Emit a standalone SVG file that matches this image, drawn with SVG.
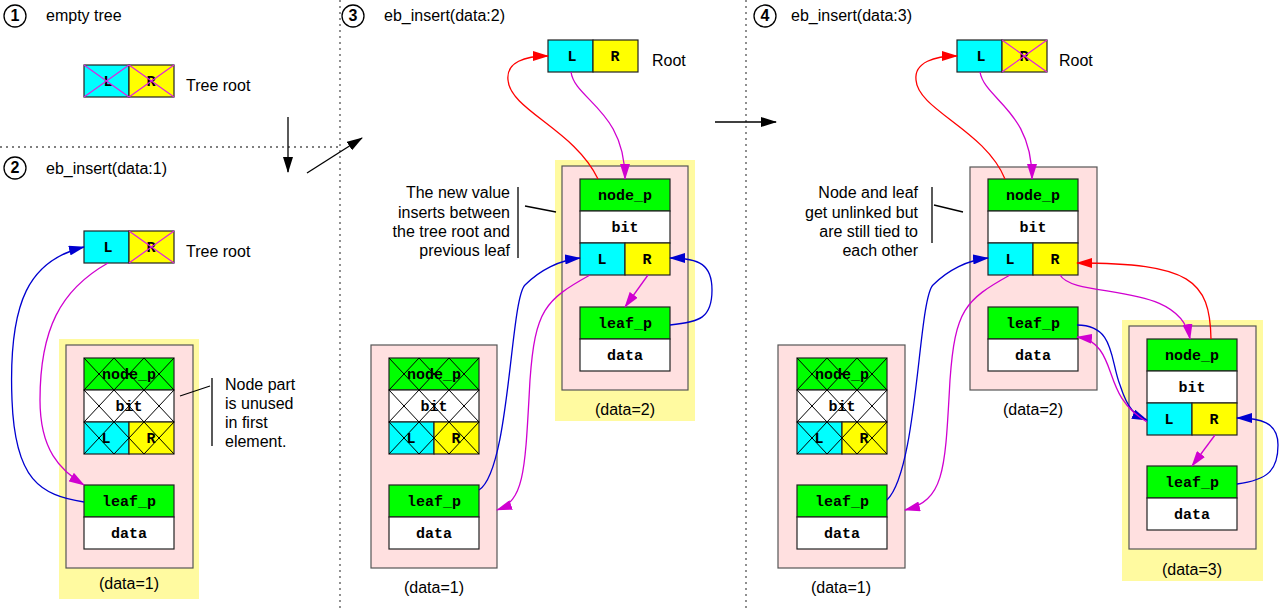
<svg xmlns="http://www.w3.org/2000/svg" width="1281" height="608" viewBox="0 0 1281 608">
<style>
.t{font-family:"Liberation Sans",Arial,sans-serif;font-size:16px;fill:#000}
.m{font-family:"Liberation Mono","Courier New",monospace;font-size:15px;font-weight:bold;fill:#000;text-anchor:middle}
.c{fill:none;stroke:#000;stroke-width:1.3}
.cell{stroke:#222;stroke-width:1.2}
.g{fill:#00ff00}.w{fill:#fff}.cy{fill:#00ffff}.y{fill:#ffff00}
.pk{fill:#ffe0e0;stroke:#555;stroke-width:1.2}
.yb{fill:#fffaa0}
.xm{stroke:#e020e0;stroke-width:1.2}
.xk{stroke:#000;stroke-width:1}
.dot{stroke:#555;stroke-width:1.3;stroke-dasharray:2,4}
.bl{fill:none;stroke:#0000d0;stroke-width:1.3}
.mg{fill:none;stroke:#d000d0;stroke-width:1.3}
.rd{fill:none;stroke:#ff0000;stroke-width:1.3}
.bk{fill:none;stroke:#000;stroke-width:1.3}
</style>
<defs>
<marker id="ab" markerWidth="16" markerHeight="10" refX="15" refY="5" orient="auto" markerUnits="userSpaceOnUse"><path d="M0,0L16,5L0,10z" fill="#0000d0"/></marker>
<marker id="am" markerWidth="16" markerHeight="10" refX="15" refY="5" orient="auto" markerUnits="userSpaceOnUse"><path d="M0,0L16,5L0,10z" fill="#d000d0"/></marker>
<marker id="ar" markerWidth="16" markerHeight="10" refX="15" refY="5" orient="auto" markerUnits="userSpaceOnUse"><path d="M0,0L16,5L0,10z" fill="#ff0000"/></marker>
<marker id="ak" markerWidth="16" markerHeight="10" refX="15" refY="5" orient="auto" markerUnits="userSpaceOnUse"><path d="M0,0L16,5L0,10z" fill="#000"/></marker>
<g id="node">
<rect class="cell g" x="0" y="0" width="90" height="32"/><text class="m" x="45" y="21">node_p</text>
<rect class="cell w" x="0" y="32" width="90" height="32"/><text class="m" x="45" y="53">bit</text>
<rect class="cell cy" x="0" y="64" width="45" height="32"/><text class="m" x="22" y="85">L</text>
<rect class="cell y" x="45" y="64" width="45" height="32"/><text class="m" x="67" y="85">R</text>
</g>
<g id="leaf">
<rect class="cell g" x="0" y="0" width="90" height="32"/><text class="m" x="45" y="21">leaf_p</text>
<rect class="cell w" x="0" y="32" width="90" height="32"/><text class="m" x="45" y="53">data</text>
</g>
<g id="xg" class="xk">
<path d="M0,0L30,32M30,0L0,32M30,0L60,32M60,0L30,32M60,0L90,32M90,0L60,32M0,32L30,64M30,32L0,64M30,32L60,64M60,32L30,64M60,32L90,64M90,32L60,64M0,64L30,96M30,64L0,96M30,64L60,96M60,64L30,96M60,64L90,96M90,64L60,96"/>
</g>
<g id="root">
<rect class="cell cy" x="0" y="0" width="45" height="32"/><text class="m" x="24" y="21">L</text>
<rect class="cell y" x="45" y="0" width="45" height="32"/><text class="m" x="67" y="21">R</text>
</g>
</defs>

<g id="separators">
<line class="dot" x1="0" y1="147" x2="340" y2="147"/>
<line class="dot" x1="340" y1="0" x2="340" y2="608"/>
<line class="dot" x1="746" y1="0" x2="746" y2="608"/>
</g>

<g id="headings">
<circle class="c" cx="15" cy="16" r="11" fill="#fff"/><text class="t" x="15" y="21" text-anchor="middle" font-weight="bold" font-size="14">1</text>
<text class="t" x="46" y="21">empty tree</text>
<circle class="c" cx="15" cy="168" r="11" fill="#fff"/><text class="t" x="15" y="173" text-anchor="middle" font-weight="bold" font-size="14">2</text>
<text class="t" x="46" y="174">eb_insert(data:1)</text>
<circle class="c" cx="353" cy="16" r="11" fill="#fff"/><text class="t" x="353" y="21" text-anchor="middle" font-weight="bold" font-size="14">3</text>
<text class="t" x="384" y="21">eb_insert(data:2)</text>
<circle class="c" cx="765" cy="16" r="11" fill="#fff"/><text class="t" x="765" y="21" text-anchor="middle" font-weight="bold" font-size="14">4</text>
<text class="t" x="791" y="21">eb_insert(data:3)</text>
</g>

<!-- panel 1 -->
<g id="root1">
<use href="#root" x="84" y="65"/>
<path class="xm" d="M84,65L129,97M129,65L84,97M129,65L174,97M174,65L129,97"/>
<text class="t" x="186" y="91">Tree root</text>
</g>

<!-- panel 2 -->
<g id="root2">
<use href="#root" x="84" y="231"/>
<path class="xm" d="M129,231L174,263M174,231L129,263"/>
<text class="t" x="186" y="257">Tree root</text>
</g>
<g id="elem1a">
<rect class="yb" x="59" y="339" width="140" height="260"/>
<rect class="pk" x="66" y="345" width="127" height="223"/>
<use href="#node" x="84" y="358"/><use href="#xg" x="84" y="358"/>
<use href="#leaf" x="84" y="485"/>
<text class="t" x="129" y="589" text-anchor="middle">(data=1)</text>
</g>
<g id="note1">
<line class="bk" x1="180" y1="396" x2="210" y2="386"/>
<line class="bk" x1="212" y1="378" x2="212" y2="446"/>
<text class="t" x="225" y="390">Node part</text>
<text class="t" x="225" y="409">is unused</text>
<text class="t" x="225" y="428">in first</text>
<text class="t" x="225" y="447">element.</text>
</g>

<!-- panel 3 -->
<g id="root3">
<use href="#root" x="548" y="40"/>
<text class="t" x="652" y="66">Root</text>
</g>
<g id="elem2a">
<rect class="yb" x="555" y="160" width="140" height="261"/>
<rect class="pk" x="562" y="166" width="126" height="224"/>
<use href="#node" x="580" y="179"/>
<use href="#leaf" x="580" y="307"/>
<text class="t" x="625" y="415" text-anchor="middle">(data=2)</text>
</g>
<g id="elem1b">
<rect class="pk" x="371" y="345" width="126" height="223"/>
<use href="#node" x="389" y="358"/><use href="#xg" x="389" y="358"/>
<use href="#leaf" x="389" y="485"/>
<text class="t" x="434" y="593" text-anchor="middle">(data=1)</text>
</g>
<g id="note3">
<text class="t" x="510" y="198" text-anchor="end">The new value</text>
<text class="t" x="510" y="218" text-anchor="end">inserts between</text>
<text class="t" x="510" y="237" text-anchor="end">the tree root and</text>
<text class="t" x="510" y="256" text-anchor="end">previous leaf</text>
<line class="bk" x1="518" y1="187" x2="518" y2="258"/>
<line class="bk" x1="525" y1="206" x2="556" y2="212"/>
</g>

<!-- panel 4 -->
<g id="root4">
<use href="#root" x="957" y="40"/>
<path class="xm" d="M1002,40L1047,72M1047,40L1002,72"/>
<text class="t" x="1059" y="66">Root</text>
</g>
<g id="elem2b">
<rect class="pk" x="970" y="167" width="127" height="223"/>
<use href="#node" x="988" y="179"/>
<use href="#leaf" x="988" y="307"/>
<text class="t" x="1033" y="415" text-anchor="middle">(data=2)</text>
</g>
<g id="elem3">
<rect class="yb" x="1122" y="320" width="141" height="261"/>
<rect class="pk" x="1129" y="326" width="127" height="223"/>
<use href="#node" x="1147" y="339"/>
<use href="#leaf" x="1147" y="466"/>
<text class="t" x="1192" y="575" text-anchor="middle">(data=3)</text>
</g>
<g id="elem1c">
<rect class="pk" x="778" y="345" width="127" height="223"/>
<use href="#node" x="797" y="358"/><use href="#xg" x="797" y="358"/>
<use href="#leaf" x="797" y="485"/>
<text class="t" x="841" y="593" text-anchor="middle">(data=1)</text>
</g>
<g id="note4">
<text class="t" x="918" y="198" text-anchor="end">Node and leaf</text>
<text class="t" x="918" y="218" text-anchor="end">get unlinked but</text>
<text class="t" x="918" y="237" text-anchor="end">are still tied to</text>
<text class="t" x="918" y="256" text-anchor="end">each other</text>
<line class="bk" x1="932" y1="187" x2="932" y2="243"/>
<line class="bk" x1="934" y1="205" x2="963" y2="212"/>
</g>

<g id="connectors">
<line class="bk" x1="288" y1="117" x2="288" y2="172" marker-end="url(#ak)"/>
<line class="bk" x1="307" y1="173" x2="362" y2="138" marker-end="url(#ak)"/>
<line class="bk" x1="715" y1="122" x2="776" y2="122" marker-end="url(#ak)"/>
<!-- panel 2 -->
<path class="bl" d="M84,502C40,495 15,480 12,400C8,300 30,260 84,247" marker-end="url(#ab)"/>
<path class="mg" d="M108,263C60,290 40,330 40,400C40,450 60,470 84,485" marker-end="url(#am)"/>
<!-- panel 3 -->
<path class="rd" d="M598,179C575,130 510,110 508,80C506,62 525,56 548,56" marker-end="url(#ar)"/>
<path class="mg" d="M571,72C575,100 625,110 625,179" marker-end="url(#am)"/>
<path class="bl" d="M479,490C510,470 510,300 525,285C540,270 560,260 580,258" marker-end="url(#ab)"/>
<path class="mg" d="M590,275C545,300 535,310 530,380C525,470 525,500 497,510" marker-end="url(#am)"/>
<path class="mg" d="M648,275L625,307" marker-end="url(#am)"/>
<path class="bl" d="M670,325C700,322 712,318 712,290C712,265 700,258 670,258" marker-end="url(#ab)"/>
<!-- panel 4 -->
<path class="rd" d="M1005,179C985,130 918,110 916,80C914,62 935,56 957,56" marker-end="url(#ar)"/>
<path class="mg" d="M980,72C985,100 1032,110 1032,179" marker-end="url(#am)"/>
<path class="bl" d="M887,500C918,470 918,300 933,285C948,270 968,260 988,258" marker-end="url(#ab)"/>
<path class="mg" d="M1010,275C965,300 955,310 950,380C945,470 945,500 905,510" marker-end="url(#am)"/>
<path class="mg" d="M1060,275C1075,300 1180,280 1190,339" marker-end="url(#am)"/>
<path class="rd" d="M1211,339C1210,280 1190,263 1077,263" marker-end="url(#ar)"/>
<path class="bl" d="M1077,325C1115,325 1110,360 1120,385C1128,410 1135,415 1147,420" marker-end="url(#ab)"/>
<path class="mg" d="M1147,422C1110,400 1115,370 1100,350C1092,340 1085,338 1077,337" marker-end="url(#am)"/>
<path class="mg" d="M1215,435L1192,466" marker-end="url(#am)"/>
<path class="bl" d="M1237,484C1268,480 1278,470 1278,445C1278,422 1260,418 1237,418" marker-end="url(#ab)"/>
</g>
</svg>
